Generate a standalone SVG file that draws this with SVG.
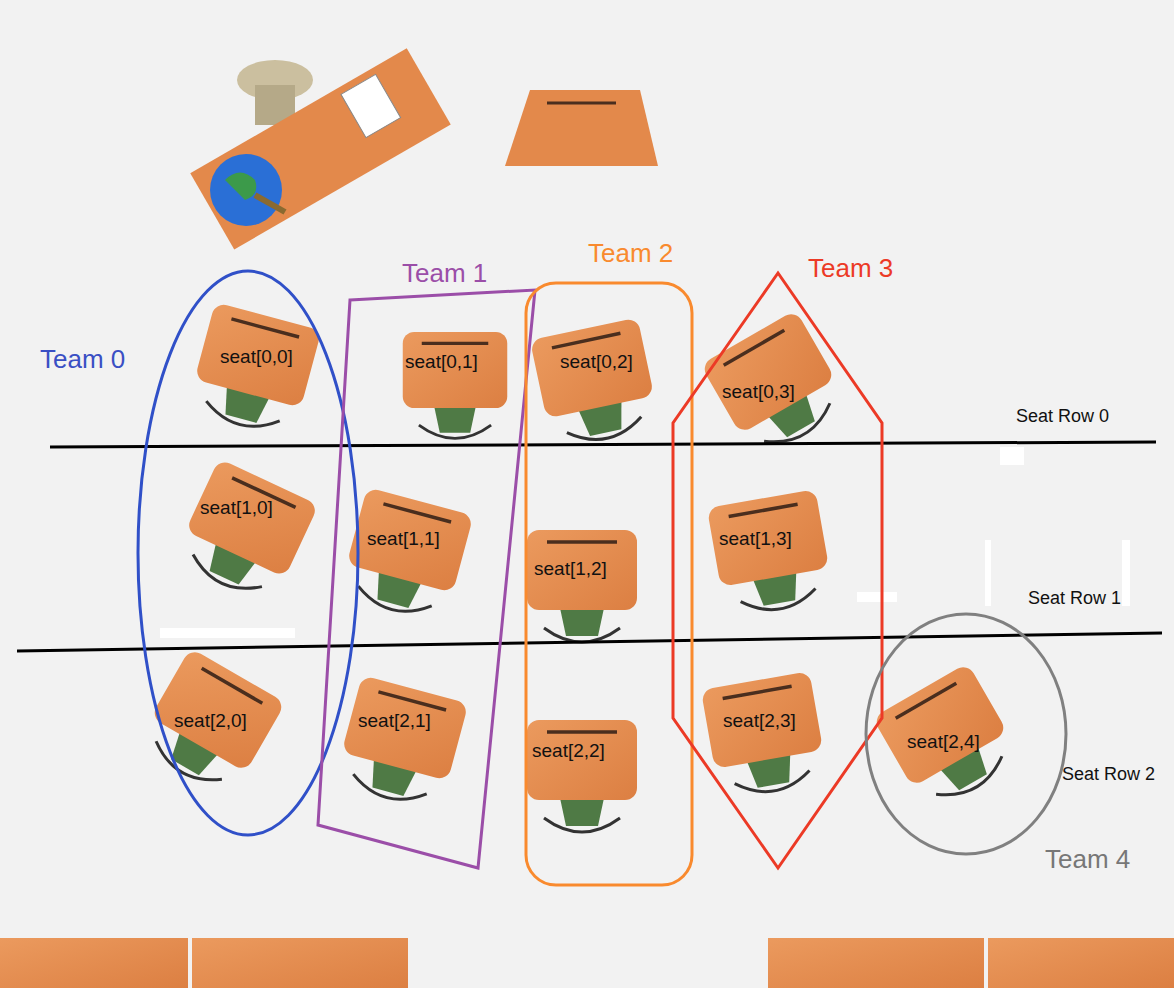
<svg xmlns="http://www.w3.org/2000/svg" width="1174" height="988" viewBox="0 0 1174 988">
<defs>
<linearGradient id="wood" x1="0" y1="0" x2="1" y2="1"><stop offset="0" stop-color="#eb9a5e"/><stop offset="1" stop-color="#dc7f42"/></linearGradient>
<g id="seat">
<path d="M-22,38 L22,38 L16,66 L-16,66 Z" fill="#4f7a45"/>
<path d="M-38,58 Q0,86 38,58" fill="none" stroke="#333" stroke-width="3"/>
<rect x="-55" y="-40" width="110" height="80" rx="12" fill="url(#wood)"/>
<line x1="-35" y1="-28" x2="35" y2="-28" stroke="#4a2e1e" stroke-width="3.5"/>
</g>
</defs>
<style>
.lbl{font-family:"Liberation Sans",sans-serif;font-size:19px;fill:#111}
.team{font-family:"Liberation Sans",sans-serif;font-size:26px}
.row{font-family:"Liberation Sans",sans-serif;font-size:18px;fill:#111}
</style>
<rect width="1174" height="988" fill="#f2f2f2"/>
<g fill="#fff"><rect x="1000" y="447" width="24" height="18"/><rect x="160" y="628" width="135" height="10"/><rect x="857" y="592" width="40" height="10"/><rect x="985" y="540" width="6" height="66"/><rect x="1122" y="540" width="8" height="66"/></g>
<g id="teacher-desk">
<ellipse cx="275" cy="80" rx="38" ry="20" fill="#cbbf9f"/><rect x="255" y="85" width="40" height="40" fill="#b5a988"/>
<g transform="rotate(-30 320 148)"><rect x="195" y="105" width="250" height="88" fill="#e3894b"/>
<rect x="365" y="112" width="40" height="50" fill="#fff" stroke="#888"/></g>
<circle cx="246" cy="190" r="36" fill="#2a6fd6"/><path d="M225,180 q15,-15 30,0 q5,15 -10,20 z" fill="#3c9a4a"/>
<line x1="255" y1="195" x2="285" y2="212" stroke="#8a6a30" stroke-width="6"/>
</g>
<g id="front-table"><path d="M505,166 L658,166 L640,90 L530,90 Z" fill="#e3894b"/><line x1="547" y1="103" x2="616" y2="103" stroke="#4a2e1e" stroke-width="3"/></g>
<g id="seats">
<use href="#seat" transform="translate(258,355) rotate(15)"/><text class="lbl" x="220" y="363">seat[0,0]</text>
<use href="#seat" transform="translate(455,370) scale(0.95)"/><text class="lbl" x="405" y="368">seat[0,1]</text>
<use href="#seat" transform="translate(592,368) rotate(-12)"/><text class="lbl" x="560" y="368">seat[0,2]</text>
<use href="#seat" transform="translate(768,372) rotate(-30)"/><text class="lbl" x="722" y="398">seat[0,3]</text>
<use href="#seat" transform="translate(252,518) rotate(25)"/><text class="lbl" x="200" y="514">seat[1,0]</text>
<use href="#seat" transform="translate(410,540) rotate(15)"/><text class="lbl" x="367" y="545">seat[1,1]</text>
<use href="#seat" transform="translate(582,570)"/><text class="lbl" x="534" y="575">seat[1,2]</text>
<use href="#seat" transform="translate(768,538) rotate(-10)"/><text class="lbl" x="719" y="545">seat[1,3]</text>
<use href="#seat" transform="translate(218,710) rotate(30)"/><text class="lbl" x="174" y="727">seat[2,0]</text>
<use href="#seat" transform="translate(405,728) rotate(15)"/><text class="lbl" x="358" y="727">seat[2,1]</text>
<use href="#seat" transform="translate(582,760)"/><text class="lbl" x="532" y="757">seat[2,2]</text>
<use href="#seat" transform="translate(762,720) rotate(-10)"/><text class="lbl" x="723" y="727">seat[2,3]</text>
<use href="#seat" transform="translate(940,725) rotate(-30)"/><text class="lbl" x="907" y="748">seat[2,4]</text>
</g>
<g id="connectors" fill="none" stroke-width="3">
<line x1="50" y1="447" x2="1156" y2="442" stroke="#000"/>
<line x1="17" y1="651" x2="1162" y2="633" stroke="#000"/>
<ellipse cx="248" cy="553" rx="110" ry="282" stroke="#3050c8"/>
<polygon points="350,300 535,290 478,868 318,825" stroke="#9b4ea8"/>
<rect x="526" y="283" width="166" height="602" rx="30" stroke="#f98a2e"/>
<polygon points="778,273 882,423 882,718 778,868 673,718 673,423" stroke="#ec3a26"/>
<ellipse cx="966" cy="734" rx="100" ry="120" stroke="#808080"/>
</g>
<g id="labels">
<text class="team" x="40" y="368" fill="#3a4fc4">Team 0</text>
<text class="team" x="402" y="282" fill="#9b4ea8">Team 1</text>
<text class="team" x="588" y="262" fill="#f98a2e">Team 2</text>
<text class="team" x="808" y="277" fill="#ec3a26">Team 3</text>
<text class="team" x="1045" y="868" fill="#777">Team 4</text>
<text class="row" x="1016" y="422">Seat Row 0</text>
<text class="row" x="1028" y="604">Seat Row 1</text>
<text class="row" x="1062" y="780">Seat Row 2</text>
</g>
<g id="benches" fill="url(#wood)"><rect x="0" y="938" width="188" height="50"/><rect x="192" y="938" width="216" height="50"/><rect x="768" y="938" width="216" height="50"/><rect x="988" y="938" width="186" height="50"/></g>
</svg>
